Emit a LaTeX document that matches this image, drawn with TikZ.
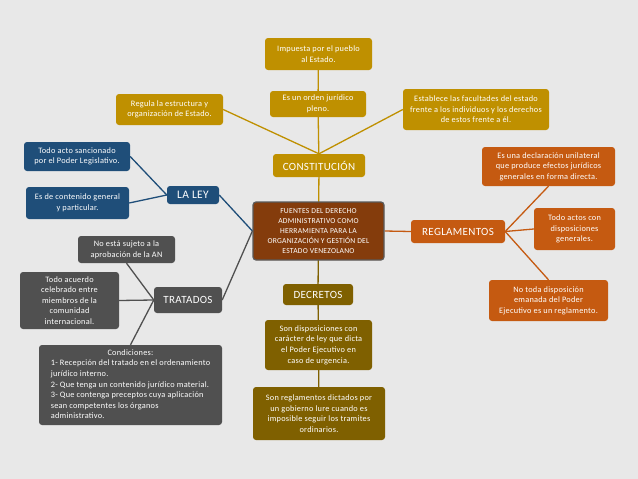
\documentclass[tikz,border=0pt]{standalone}
\usepackage{fontspec}
\setmainfont{Carlito}[LetterSpace=3]
\pgfdeclarelayer{bg}
\pgfdeclarelayer{edges}
\pgfsetlayers{bg,edges,main}
\definecolor{bgc}{HTML}{E8E8E8}
\definecolor{goldc}{HTML}{BF9000}
\definecolor{olivec}{HTML}{7F6000}
\definecolor{bluec}{HTML}{1F4E79}
\definecolor{orangec}{HTML}{C55A11}
\definecolor{grayc}{HTML}{505050}
\definecolor{brownc}{HTML}{843C0C}
\definecolor{borderc}{HTML}{5A5A5A}
\tikzset{
  box/.style={rounded corners=3pt, text=white, align=center, inner sep=1pt,
    font=\fontsize{8.3}{10.6}\selectfont},
  head/.style={box, font=\fontsize{11}{13}\selectfont},
  gold/.style={fill=goldc},
  olive/.style={fill=olivec},
  blue/.style={fill=bluec},
  orange/.style={fill=orangec},
  grayb/.style={fill=grayc},
  wh/.style 2 args={minimum width=#1, minimum height=#2},
  link/.style={line width=1.3pt},
}
\begin{document}
\begin{tikzpicture}[x=1pt,y=-1pt]
\begin{pgfonlayer}{bg}
\fill[bgc] (0,0) rectangle (638,479);
\end{pgfonlayer}
\useasboundingbox (0,0) rectangle (638,479);

% center
\node[box, fill=brownc, draw=borderc, line width=1.2pt, wh={131pt}{58pt},
  font=\fontsize{7.6}{10.2}\selectfont] (fuentes) at (318.5,231)
  {FUENTES DEL DERECHO\\ADMINISTRATIVO COMO\\HERRAMIENTA PARA LA\\ORGANIZACIÓN Y GESTIÓN DEL\\ESTADO VENEZOLANO};

% constitucion
\node[head, gold, wh={92pt}{23pt}] (const) at (319,165.5) {CONSTITUCIÓN};
\node[box, gold, wh={107pt}{32pt}] (imp) at (318.5,54) {Impuesta por el pueblo\\al Estado.};
\node[box, gold, wh={96pt}{26pt}] (orden) at (318,104) {Es un orden jurídico\\pleno.};
\node[box, gold, wh={107pt}{31pt}] (regula) at (169.5,109.5) {Regula la estructura y\\organización de Estado.};
\node[box, gold, wh={146pt}{41pt}] (estab) at (476,109.5) {Establece las facultades del estado\\frente a los individuos y los derechos\\de estos frente a él.};

% la ley
\node[head, blue, wh={52pt}{18pt}, font=\fontsize{11.5}{13}\selectfont] (ley) at (193,195) {LA LEY};
\node[box, blue, wh={106pt}{29pt}] (acto) at (77,156.5) {Todo acto sancionado\\por el Poder Legislativo.};
\node[box, blue, wh={103pt}{32pt}] (gral) at (77.5,203) {Es de contenido general\\y particular.};

% tratados
\node[head, grayb, wh={68pt}{26pt}] (trat) at (188,300) {TRATADOS};
\node[box, grayb, wh={97pt}{27pt}] (sujeto) at (126.5,249.5) {No está sujeto a la\\aprobación de la AN};
\node[box, grayb, wh={99pt}{57pt}] (acuerdo) at (69.5,300.5) {Todo acuerdo\\celebrado entre\\miembros de la\\comunidad\\internacional.};
\node[box, grayb, wh={183pt}{80pt}] (cond) at (130.5,385)
  {\begin{tabular}{@{}l@{}}\multicolumn{1}{@{}c@{}}{Condiciones:}\\1- Recepción del tratado en el ordenamiento\\jurídico interno.\\2- Que tenga un contenido jurídico material.\\3- Que contenga preceptos cuya aplicación\\sean competentes los órganos\\administrativo.\end{tabular}};

% decretos
\node[head, olive, wh={70pt}{21pt}] (decr) at (318,294.5) {DECRETOS};
\node[box, olive, wh={107pt}{50pt}] (disp) at (318.5,345) {Son disposiciones con\\carácter de ley que dicta\\el Poder Ejecutivo en\\caso de urgencia.};
\node[box, olive, wh={132pt}{53pt}] (regl2) at (319,413.5) {Son reglamentos dictados por\\un gobierno lure cuando es\\imposible seguir los tramites\\ordinarios.};

% reglamentos
\node[head, orange, wh={94pt}{23pt}] (regl) at (458,231.5) {REGLAMENTOS};
\node[box, orange, wh={133pt}{39pt}] (decl) at (548.5,166.5) {Es una declaración unilateral\\que produce efectos jurídicos\\generales en forma directa.};
\node[box, orange, wh={81pt}{42pt}] (actos) at (574.5,229) {Todo actos con\\disposiciones\\generales.};
\node[box, orange, wh={119pt}{41pt}] (notoda) at (548.5,300.5) {No toda disposición\\emanada del Poder\\Ejecutivo es un reglamento.};

\begin{pgfonlayer}{edges}
\draw[link, goldc] (imp.center) -- (orden.center) -- (const.center) -- (fuentes.center);
\draw[link, goldc] (regula.east) -- (const.north);
\draw[link, goldc] (estab.west) -- (const.north);
\draw[link, bluec] (acto.east) -- (ley.west);
\draw[link, bluec] (gral.east) -- (ley.west);
\draw[link, bluec] (ley.east) -- (fuentes.west);
\draw[link, grayc] (trat.east) -- (fuentes.west);
\draw[link, grayc] (sujeto.south) -- (trat.west);
\draw[link, grayc] (acuerdo.east) -- (trat.west);
\draw[link, grayc] (cond.north) -- (trat.west);
\draw[link, olivec] (fuentes.center) -- (decr.center) -- (disp.center) -- (regl2.center);
\draw[link, orangec] (fuentes.east) -- (regl.west);
\draw[link, orangec] (regl.east) -- (decl.south);
\draw[link, orangec] (regl.east) -- (actos.west);
\draw[link, orangec] (regl.east) -- (notoda.north);
\end{pgfonlayer}
\end{tikzpicture}
\end{document}
